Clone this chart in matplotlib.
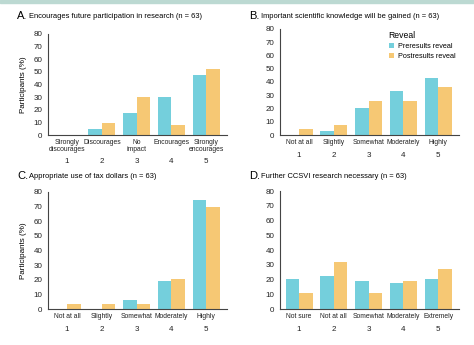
import numpy as np
import matplotlib
matplotlib.use("Agg")
import matplotlib.pyplot as plt
from matplotlib.patches import Rectangle

plt.rcParams['font.family'] = ['Liberation Sans', 'DejaVu Sans']

# percent of participants (n = 63) per response, before / after results reveal
labels_a = ["Strongly\ndiscourages", "Discourages", "No\nimpact", "Encourages", "Strongly\nencourages"]
pre_a = [0.0, 4.8, 17.5, 30.2, 47.6]
post_a = [0.0, 9.5, 30.2, 7.9, 52.4]

labels_b = ["Not at all", "Slightly", "Somewhat", "Moderately", "Highly"]
pre_b = [0.0, 3.2, 20.6, 33.3, 42.9]
post_b = [4.8, 7.9, 25.4, 25.4, 36.5]

labels_c = ["Not at all", "Slightly", "Somewhat", "Moderately", "Highly"]
pre_c = [0.0, 0.0, 6.3, 19.0, 74.6]
post_c = [3.2, 3.2, 3.2, 20.6, 69.8]

labels_d = ["Not sure", "Not at all", "Somewhat", "Moderately", "Extremely"]
pre_d = [20.6, 22.2, 19.0, 17.5, 20.6]
post_d = [11.1, 31.7, 11.1, 19.0, 27.0]

scale_nums = ["1", "2", "3", "4", "5"]
yticks = [0, 10, 20, 30, 40, 50, 60, 70, 80]

C_PRE = "#74cfdc"
C_POST = "#f6c874"
SPINE = "#444444"

W, H = 474, 345
fig = plt.figure(figsize=(W / 100, H / 100), dpi=100)
fig.patches.append(Rectangle((0, 1 - 2.5 / H), 1, 2.5 / H, transform=fig.transFigure,
                             color="#bcd9d2", zorder=0))


def px_axes(left, right, top, bottom):
    return fig.add_axes([left / W, 1 - bottom / H, (right - left) / W, (bottom - top) / H])


def panel(ax, letter, title, labels, pre, post, ylabel=False, tx=None, ty=None):
    x = np.arange(1, len(labels) + 1)
    bw = 0.39
    ax.bar(x - bw / 2, pre, bw, color=C_PRE, label="Preresults reveal")
    ax.bar(x + bw / 2, post, bw, color=C_POST, label="Postresults reveal")
    ax.set_xlim(0.45, 5.6)
    ax.set_ylim(0, 80)
    ax.set_yticks(yticks)
    ax.set_xticks(x)
    ax.set_xticklabels(labels, fontsize=4.9, linespacing=1.0)
    ax.tick_params(axis="both", length=0, pad=3, colors="#222222")
    ax.tick_params(axis="y", labelsize=5.8, pad=4)
    for s in ("top", "right"):
        ax.spines[s].set_visible(False)
    for s in ("left", "bottom"):
        ax.spines[s].set_color(SPINE)
        ax.spines[s].set_linewidth(0.8)
    nlines = max(l.count("\n") + 1 for l in labels)
    off = -15.0 - (nlines - 1) * 4.0
    for xi, n in zip(x, scale_nums):
        ax.annotate(n, (xi, 0), xycoords=("data", "axes fraction"), xytext=(0, off),
                    textcoords="offset points", ha="center", va="center",
                    fontsize=5.8, color="#222222")
    if ylabel:
        ax.set_ylabel("Participants (%)", fontsize=5.8, labelpad=5)
    fig.text(tx / W, 1 - ty / H, letter, fontsize=8, va="center", ha="left")
    fig.text((tx + 12) / W, 1 - ty / H, title, fontsize=5.4, va="center", ha="left")


ax_a = px_axes(48, 227, 34, 135)
panel(ax_a, "A.", "Encourages future participation in research (n = 63)",
      labels_a, pre_a, post_a, ylabel=True, tx=17, ty=16)

ax_b = px_axes(280, 459, 29, 135)
panel(ax_b, "B.", "Important scientific knowledge will be gained (n = 63)",
      labels_b, pre_b, post_b, tx=249, ty=16)
leg = ax_b.legend(loc="upper left", bbox_to_anchor=(0.57, 1.04), frameon=False,
                  title="Reveal", fontsize=5.2, title_fontsize=6.2,
                  handlelength=0.7, handleheight=0.7, handletextpad=0.6,
                  labelspacing=0.4)
leg._legend_box.align = "left"

ax_c = px_axes(48, 227, 192, 309)
panel(ax_c, "C.", "Appropriate use of tax dollars (n = 63)",
      labels_c, pre_c, post_c, ylabel=True, tx=17, ty=176)

ax_d = px_axes(280, 459, 191, 309)
panel(ax_d, "D.", "Further CCSVI research necessary (n = 63)",
      labels_d, pre_d, post_d, tx=249, ty=176)

fig.savefig("out.png", dpi=100)
